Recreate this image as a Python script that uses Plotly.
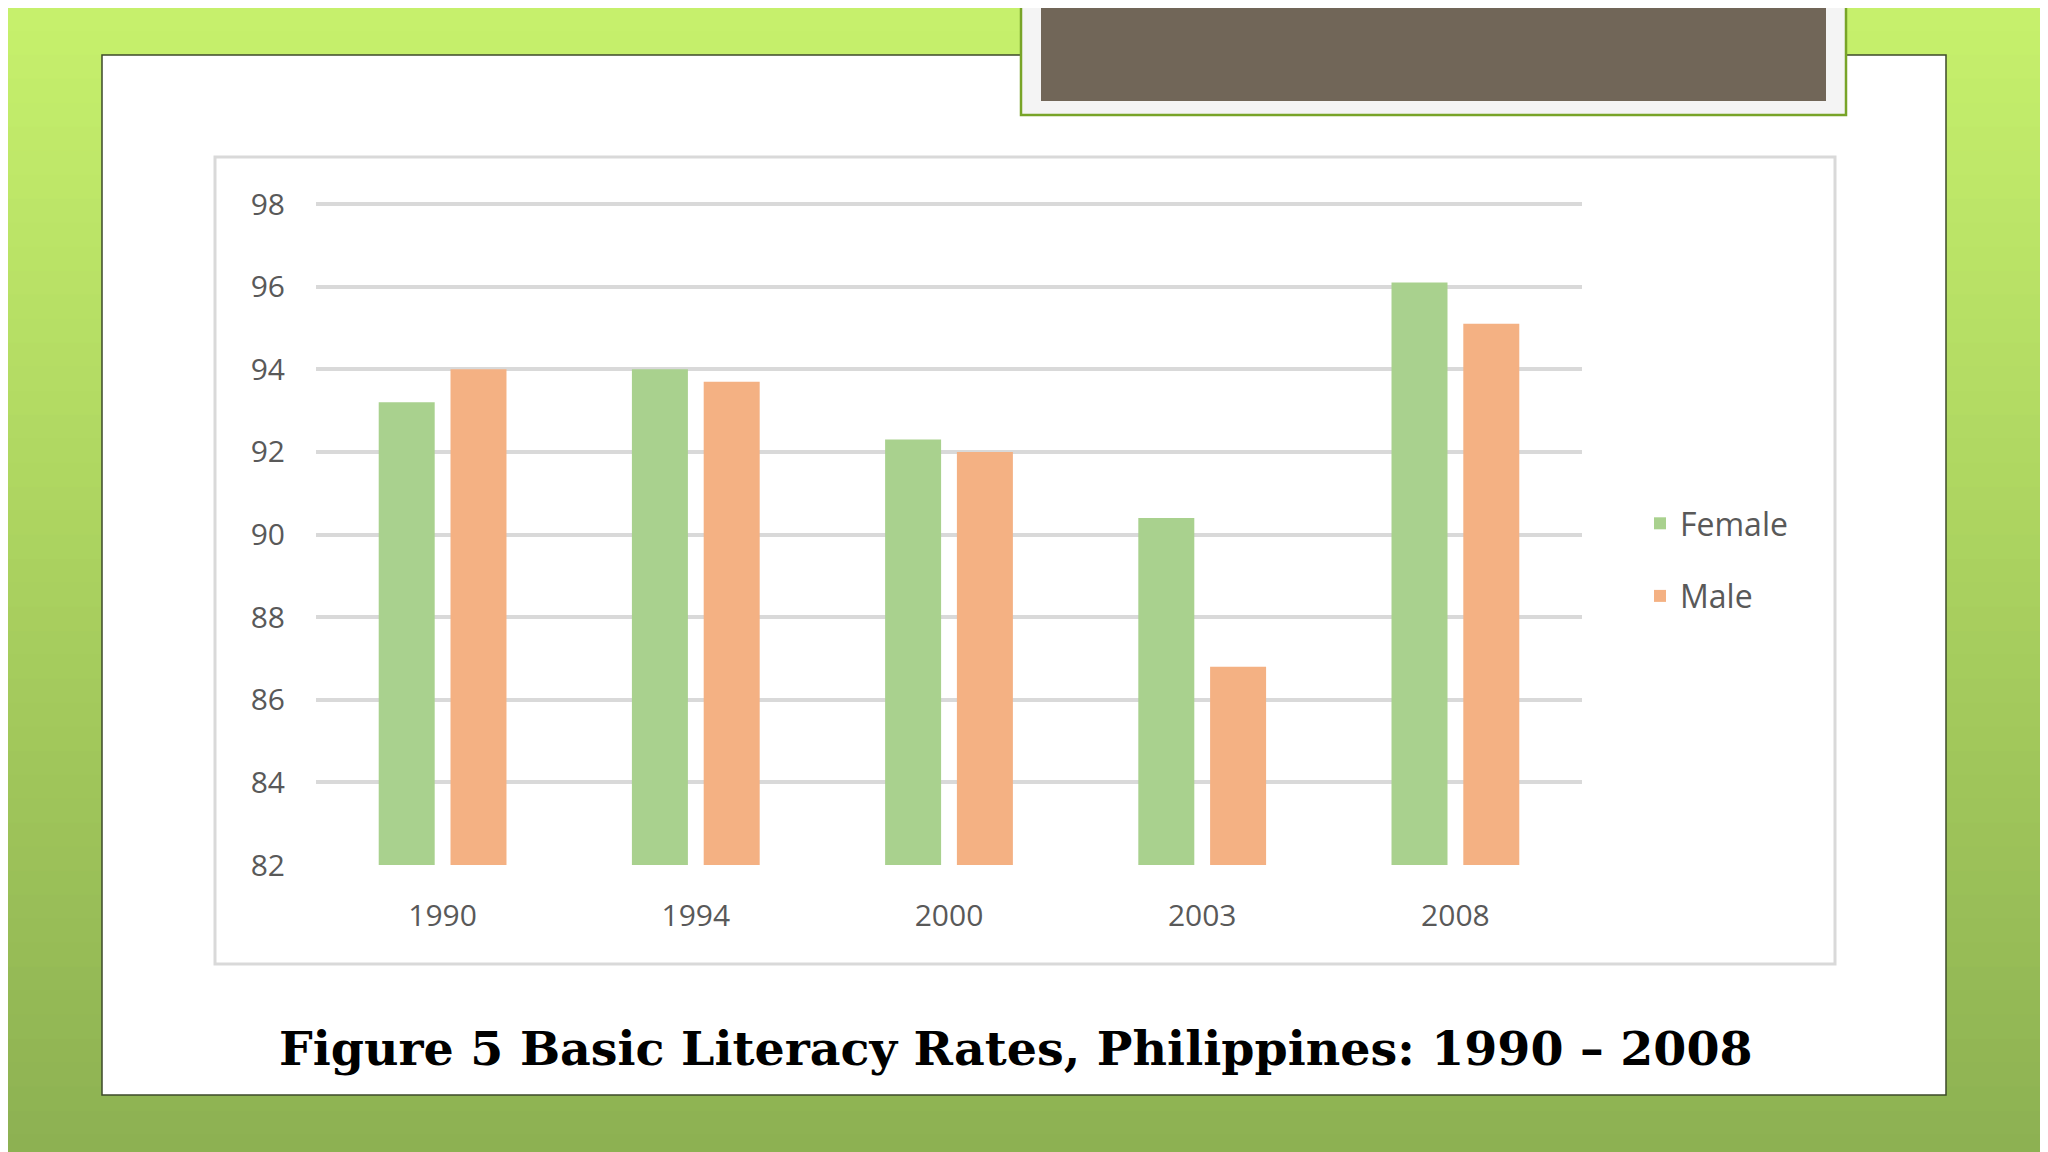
import plotly.graph_objects as go

# data
years = ["1990", "1994", "2000", "2003", "2008"]
female = [93.2, 94.0, 92.3, 90.4, 96.1]
male = [94.0, 93.7, 92.0, 86.8, 95.1]
y_ticks = [82, 84, 86, 88, 90, 92, 94, 96, 98]
title_text = "Figure 5 Basic Literacy Rates, Philippines: 1990 \u2013 2008"

W, H = 2048, 1152
OFF = 8  # page body margin in front of the figure


def px(x):
    return (x - OFF) / W


def py(y):
    return 1 - (y - OFF) / H


def mix(c1, c2, t):
    a = [int(c1[i:i + 2], 16) for i in (1, 3, 5)]
    b = [int(c2[i:i + 2], 16) for i in (1, 3, 5)]
    return "rgb(%d,%d,%d)" % tuple(round(a[k] + (b[k] - a[k]) * t) for k in range(3))


shapes = []
# green slide background (vertical gradient)
bands = 48
for i in range(bands):
    shapes.append(dict(type="rect", xref="paper", yref="paper", layer="below",
                       x0=-0.01, x1=1.01, y0=1 - (i + 1) / bands, y1=1 - i / bands + 0.001,
                       fillcolor=mix("#c6f06c", "#8db152", i / (bands - 1)), line_width=0))
# white slide panel
shapes.append(dict(type="rect", xref="paper", yref="paper", layer="below",
                   x0=px(102), x1=px(1946), y0=py(1095), y1=py(55),
                   fillcolor="white", line=dict(color="#3d4a2a", width=1.5)))
# title placeholder box at top
shapes.append(dict(type="rect", xref="paper", yref="paper", layer="below",
                   x0=px(1021), x1=px(1846), y0=py(115), y1=1.02,
                   fillcolor="#f4f4f4", line=dict(color="#78a428", width=2.5)))
shapes.append(dict(type="rect", xref="paper", yref="paper", layer="below",
                   x0=px(1041), x1=px(1826), y0=py(101), y1=1.02,
                   fillcolor="#716658", line_width=0))
# chart frame
shapes.append(dict(type="rect", xref="paper", yref="paper", layer="below",
                   x0=px(215), x1=px(1835), y0=py(964), y1=py(157),
                   fillcolor="white", line=dict(color="#d9d9d9", width=3)))

fig = go.Figure()
fig.add_trace(go.Bar(x=years, y=female, name="Female", marker_color="#a9d18e",
                     marker_line_width=0, legendgroup="f"))
fig.add_trace(go.Bar(x=years, y=male, name="Male", marker_color="#f4b183",
                     marker_line_width=0, legendgroup="m"))

fig.update_layout(
    width=W, height=H, autosize=False,
    margin=dict(l=0, r=0, t=0, b=0, pad=0),
    paper_bgcolor="#a8d060",
    plot_bgcolor="rgba(0,0,0,0)",
    barmode="group", bargap=0.433, bargroupgap=0.22,
    shapes=shapes,
    font=dict(family="Open Sans", color="#595959"),
    xaxis=dict(domain=[px(316), px(1582)], showgrid=False, zeroline=False,
               showline=False, ticks="", tickfont=dict(size=30, color="#595959"),
               ticklabelstandoff=30, fixedrange=True, automargin=False),
    yaxis=dict(domain=[py(865), py(202)], range=[82, 98.05], tickvals=y_ticks,
               showgrid=True, gridcolor="#d9d9d9", gridwidth=3.5,
               zeroline=False, showline=False, ticks="",
               tickfont=dict(size=30, color="#595959"), ticklabelstandoff=30,
               fixedrange=True, automargin=False),
    legend=dict(x=px(1640), y=py(560), xanchor="left", yanchor="middle",
                font=dict(size=32, color="#595959"), bgcolor="rgba(0,0,0,0)",
                tracegroupgap=28, traceorder="grouped"),
    annotations=[dict(text="<b>" + title_text + "</b>", xref="paper", yref="paper",
                      x=px(1016), y=py(1048), xanchor="center", yanchor="middle",
                      showarrow=False,
                      font=dict(family="DejaVu Serif", size=47.5, color="black"))],
)

fig.write_html("out.html")
